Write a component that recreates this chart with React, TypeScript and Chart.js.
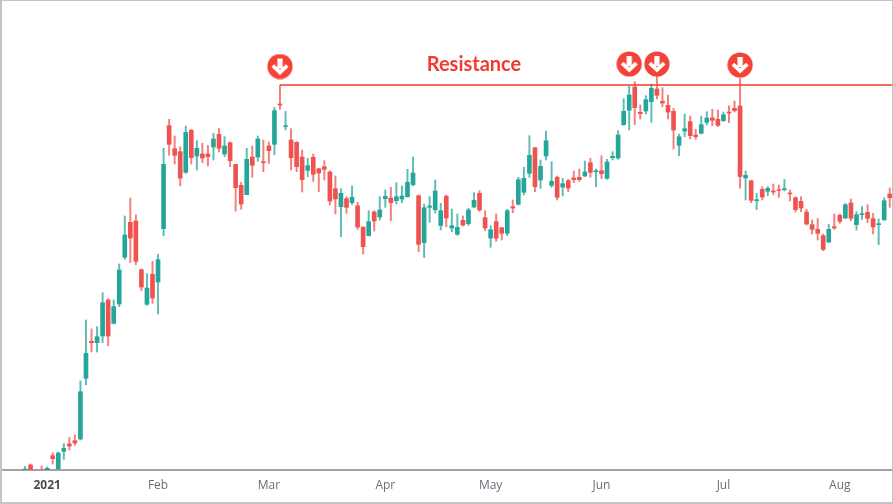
import React, { useEffect, useRef } from "react";
import { Chart, registerables } from "chart.js";

Chart.register(...registerables);

const opens = [
  -1, 5, -4, -1, -1, 14.3, 1.3, 18.7, 26, 29.3, 31, 91.7, 128.7, 127.3, 134, 170, 146.7, 166, 212.7, 247.7,
  249, 200.3, 165.7, 195.7, 188, 241.3, 344.3, 321.3, 318.3, 297.7, 339.7, 314, 316, 316, 323, 335.7, 316, 327.3, 305.7, 284.7,
  275.3, 313, 313, 308.3, 324, 325.7, 366, 343.3, 330, 327.7, 313, 299.7, 312.7, 301.3, 303.3, 298, 281.3, 263.3, 271.3, 267.3,
  264.3, 243, 234.3, 258, 253, 271.3, 272, 269.3, 271, 273.3, 285.3, 274.3, 227.3, 262.7, 260.3, 244.5, 273.7, 242, 235.7, 249.7,
  246.3, 263, 276.7, 252.3, 232, 248.3, 242.3, 236.7, 263.3, 265.7, 277.7, 296.7, 322.3, 290, 314, 284.7, 292.7, 283, 289.3, 292,
  292.7, 294, 307.3, 298.3, 299.3, 291.7, 312.3, 312, 345.3, 359.7, 383, 357.7, 359, 368.3, 381, 368.7, 364.7, 358.7, 324.7, 339,
  348.3, 335, 336.7, 347.7, 352, 350.7, 349.3, 358, 361.7, 364, 292, 289.3, 269.3, 280.7, 278.7, 279, 280.3, 280.3, 277, 272.3,
  268.7, 258, 245.3, 240.7, 234.3, 228, 243.3, 254.7, 252, 267, 245.3, 255.3, 257.7, 251.3, 245.3, 250.3, 276,
];
const highs = [
  3.3, 6, -1, 4, 3, 17.3, 18, 26.3, 32.7, 35, 89, 150, 141, 143.3, 177.3, 171.3, 170, 206, 254, 272,
  255.3, 201, 196.3, 208.7, 215.7, 321.7, 350.7, 334, 323.3, 344, 340.7, 329.3, 326.7, 324.7, 336.7, 341.3, 333.3, 328, 305.7, 287.7,
  321.7, 324, 334, 330, 328, 362.7, 385, 358.7, 341.3, 328.3, 320, 311.7, 316, 301.7, 309.3, 299.3, 294, 281.3, 273.3, 284,
  267.7, 243, 259.3, 259.3, 273.3, 280, 282.7, 287.3, 284, 300.7, 313, 275, 266, 273.3, 290, 266.7, 275, 261, 256, 254,
  261.7, 277.3, 279.3, 259.3, 244.3, 256, 242.3, 260.7, 270, 292.7, 302.7, 334.3, 322.3, 310, 339, 308.3, 294, 291.7, 290.7, 299,
  301, 309, 311.7, 301, 314.3, 310.7, 318.3, 339.3, 371.3, 384, 388.3, 365, 374.3, 386, 394, 382.3, 375, 361.7, 336, 356,
  354, 340.7, 354, 358.3, 360.7, 360, 358, 364.3, 369, 392, 299, 289.3, 276.7, 283.3, 283.3, 286, 285, 290.7, 280, 273.3,
  273.3, 260.7, 250, 251.3, 236, 245.7, 256, 256, 266.7, 271, 258.3, 263.3, 265.3, 256.7, 251, 272.3, 282,
];
const lows = [
  -2, -2, -6, -6, -2, 6, 0, 10.7, 20, 24.7, 30, 85.3, 118, 118, 127.3, 124.3, 146, 163.3, 210.7, 207.3,
  205.3, 179.3, 164.7, 166.7, 156, 234.3, 314.7, 306, 284, 296.7, 306, 300, 307.3, 304, 310, 318, 313.3, 303.3, 259, 260.7,
  275.3, 292.7, 308.7, 298.3, 306.7, 315.3, 360.7, 340, 300, 298.3, 278, 293.3, 288.7, 278.3, 290, 265, 256, 233.3, 256.7, 265.3,
  240.7, 216, 234, 239, 250, 262.7, 249.3, 266, 267.3, 272.7, 284, 218.3, 212.5, 247.7, 257, 240, 243.3, 238.3, 234.7, 244,
  244.7, 262.3, 258.7, 239.3, 222.7, 228.7, 230, 234.3, 257.3, 265, 275, 292.7, 278.3, 281.7, 310, 282.7, 270, 274, 278.3, 287.3,
  288.7, 293.3, 292.7, 283.3, 291.3, 290.7, 310, 310.7, 344.7, 340, 345.3, 351, 356, 347.7, 371, 363.3, 351, 321, 314.3, 333.3,
  331, 330.7, 336, 345, 344.3, 343.3, 348.7, 347.3, 358, 281.7, 270, 267.3, 260.5, 270, 274.3, 275.3, 272.7, 279, 269, 258,
  258.3, 245, 236, 230, 219.3, 227.3, 240.7, 246.7, 251.3, 249.3, 240, 250.7, 247.3, 236, 225.3, 249.3, 262.7,
];
const closes = [
  1, -1, -2, -5, 1.7, 11.3, 17, 21.7, 24, 27, 78.3, 116.7, 127.3, 133.3, 167.3, 134, 163.3, 200, 235, 232,
  208.7, 183, 182, 172, 210.3, 305.7, 325.7, 314.7, 292, 337.7, 312.3, 321.7, 312, 313.3, 331, 321.7, 324, 309.3, 282.3, 266,
  310.7, 304.7, 331, 307.3, 319.3, 359.3, 365, 344.3, 312.3, 303.3, 290.3, 304.3, 295.7, 297, 300.7, 269, 271, 276.7, 262.7, 272.7,
  243, 223.3, 248.3, 249, 260, 273.7, 267.3, 273.3, 274, 287.7, 297, 225.7, 262.3, 264, 279, 259.3, 252, 244.3, 242.7, 245,
  260, 269.7, 260, 242, 240.3, 231.7, 236.7, 259.3, 262, 290.3, 291.7, 314.7, 283.3, 303.7, 329.3, 288.7, 272.7, 286.3, 282, 290.3,
  290.3, 298, 297.7, 299.3, 296.3, 308, 313.7, 335, 358.7, 375, 362.3, 356.3, 370.3, 381.7, 374.7, 367, 358, 340, 333.3, 341.3,
  334.3, 333.3, 345.3, 352, 349.7, 344.7, 355.3, 357, 359.3, 293.5, 294.7, 269.7, 270.3, 273, 281.7, 278, 279.5, 281.3, 276.1, 260.3,
  262, 246, 240.7, 236.7, 220.7, 240.7, 242, 248.7, 265.3, 251.7, 255.3, 256.3, 251.7, 243, 246.3, 269.3, 272.3,
];

const tickLabels = ["2021", "Feb", "Mar", "Apr", "May", "Jun", "Jul", "Aug"];
const tickIndexes = [4, 24, 44, 65, 84, 104, 126, 147];

const resistanceLevel = 385;
const resistanceStart = 46;
const resistanceEnd = 157;
const resistanceText = "Resistance";
const resistanceTextIndex = 81;
const resistanceTextPrice = 405.5;

const arrowIndexes = [46, 109, 114, 129];
const arrowPrices = [403.5, 406, 406, 405];

const TEAL = "#26A69A";
const RED = "#EF5350";
const TEAL_WICK = "rgba(38,166,154,0.75)";
const RED_WICK = "rgba(239,83,80,0.75)";
const LINE_RED = "#F23A30";

function makeArrowIcon() {
  const size = 26;
  const c = document.createElement("canvas");
  c.width = size;
  c.height = size;
  const g = c.getContext("2d")!;
  g.fillStyle = "#F44336";
  g.beginPath();
  g.arc(13, 13, 12.6, 0, Math.PI * 2);
  g.fill();
  g.strokeStyle = "#fff";
  g.fillStyle = "#fff";
  g.fillRect(10.4, 5, 5.2, 10);
  g.lineWidth = 3.8;
  g.lineJoin = "miter";
  g.beginPath();
  g.moveTo(5.8, 12.2);
  g.lineTo(13, 19);
  g.lineTo(20.2, 12.2);
  g.stroke();
  return c;
}

const labelPlugin = {
  id: "resistanceLabel",
  afterDatasetsDraw(chart: any) {
    const { ctx, scales } = chart;
    ctx.save();
    ctx.font = 'bold 20px "Lato"';
    ctx.fillStyle = LINE_RED;
    ctx.textAlign = "center";
    ctx.textBaseline = "middle";
    ctx.fillText(resistanceText, scales.x.getPixelForValue(resistanceTextIndex), scales.y.getPixelForValue(resistanceTextPrice));
    ctx.restore();
  },
};

export default function App() {
  const ref = useRef<HTMLCanvasElement>(null);
  useEffect(() => {
    const up = closes.map((c, i) => c >= opens[i]);
    const chart = new Chart(ref.current!, {
      type: "bar",
      plugins: [labelPlugin],
      data: {
        datasets: [
          {
            type: "bar",
            data: lows.map((l, i) => ({ x: i, y: [l, highs[i]] })),
            backgroundColor: up.map((u) => (u ? TEAL_WICK : RED_WICK)),
            barThickness: 1.3,
            grouped: false,
            order: 4,
          },
          {
            type: "bar",
            data: opens.map((o, i) => ({ x: i, y: [o, closes[i]] })),
            backgroundColor: up.map((u) => (u ? TEAL : RED)),
            barThickness: 4,
            grouped: false,
            order: 3,
          },
          {
            type: "line",
            data: [
              { x: resistanceStart, y: resistanceLevel },
              { x: resistanceEnd, y: resistanceLevel },
            ],
            borderColor: LINE_RED,
            borderWidth: 1.6,
            pointRadius: 0,
            order: 2,
          },
          {
            type: "line",
            showLine: false,
            data: arrowIndexes.map((x, i) => ({ x, y: arrowPrices[i] })),
            pointStyle: makeArrowIcon(),
            order: 1,
          },
        ],
      } as any,
      options: {
        responsive: false,
        animation: false,
        devicePixelRatio: 1,
        layout: { padding: 0, autoPadding: false },
        plugins: { legend: { display: false }, tooltip: { enabled: false } },
        scales: {
          x: {
            type: "linear",
            min: -4.51,
            max: 156.59,
            offset: false,
            grid: { display: false, drawTicks: false, tickLength: 0 },
            border: { display: true, color: "#A3A3A3", width: 2 },
            afterBuildTicks: (axis: any) => {
              axis.ticks = tickIndexes.map((value) => ({ value }));
            },
            afterFit: (axis: any) => {
              axis.height = 34;
            },
            ticks: {
              autoSkip: false,
              maxRotation: 0,
              padding: 8,
              callback: (v: any) => tickLabels[tickIndexes.indexOf(v)] ?? "",
              color: (c: any) => (c.tick?.value === tickIndexes[0] ? "#4A4A4F" : "#6A6D78"),
              font: (c: any) => ({
                family: '"Open Sans"',
                size: 12,
                weight: c.tick?.value === tickIndexes[0] ? "bold" : "normal",
              }),
            },
          },
          y: { display: false, min: 0, max: 470 },
        },
      } as any,
    });
    return () => chart.destroy();
  }, []);
  return (
    <div style={{ position: "absolute", left: 0, top: 0, width: 893, height: 504, background: "#fff", overflow: "hidden" }}>
      <canvas ref={ref} width={893} height={504} style={{ display: "block" }} />
      <div
        style={{
          position: "absolute",
          inset: 0,
          pointerEvents: "none",
          boxSizing: "border-box",
          borderStyle: "solid",
          borderColor: "#C4C4C4",
          borderWidth: "1px 1px 2px 2px",
        }}
      />
    </div>
  );
}
